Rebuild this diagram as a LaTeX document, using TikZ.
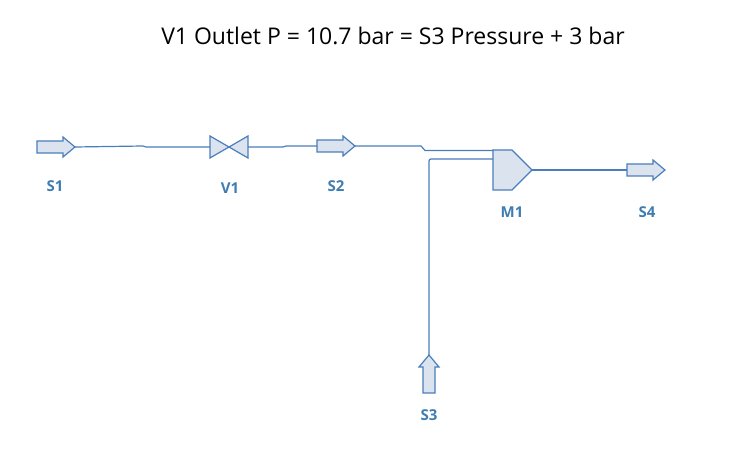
\documentclass[tikz,border=0pt]{standalone}
\usepackage{fontspec}
\setmainfont{Open Sans}
\definecolor{ln}{HTML}{4A7EBB}
\definecolor{fl}{HTML}{DAE3EE}
\definecolor{tx}{HTML}{3E7CB1}
\begin{document}
\begin{tikzpicture}[x=1pt,y=-1pt,
  pipe/.style={draw=ln,line width=1.2pt},
  strm/.style={pipe,fill=fl,line join=miter},
  lab/.style={text=tx,font=\bfseries\fontsize{15}{18}\selectfont}]
\useasboundingbox (0,0) rectangle (755,457);
\node[font=\fontsize{23}{27}\selectfont] (title) at (393,36) {V1 Outlet P = 10.7 bar = S3 Pressure + 3 bar};
% horizontal stream arrows: left end at x, centre y
\def\harrow#1#2{\draw[strm] (#1,#2-6) -- (#1+26,#2-6) -- (#1+26,#2-10) -- (#1+38,#2) -- (#1+26,#2+10) -- (#1+26,#2+6) -- (#1,#2+6) -- cycle;}
\harrow{37}{147} \coordinate (s1in) at (37,147); \coordinate (s1) at (75,147);
\harrow{317}{146} \coordinate (s2in) at (317,146); \coordinate (s2) at (355,146);
\harrow{627}{170} \coordinate (s4in) at (627,170); \coordinate (s4) at (665,170);
\draw[strm] (423,393) -- (423,367) -- (419,367) -- (429,355) -- (439,367) -- (435,367) -- (435,393) -- cycle;
\coordinate (s3) at (429,355);
% valve
\coordinate (v1) at (229,147);
\draw[pipe,fill=fl,line join=miter] (210,136) -- (248,158) -- (248,136) -- (210,158) -- cycle;
\coordinate (v1in) at (210,147);
\coordinate (v1out) at (248,147);
% mixer
\draw[pipe,fill=fl] (493,150) -- (512,150) -- (532,170) -- (512,190) -- (493,190) -- cycle;
\coordinate (m1in) at (493,150.5);
\coordinate (m1in2) at (493,159);
\coordinate (m1out) at (532,170);
\draw[pipe] (s1) -- (143,146) -- (146,147) -- (v1in);
\draw[pipe] (v1out) -- (283,147) -- (286,146) -- (s2in);
\draw[pipe] (s2) -- (421,146) -- (425,150.5) -- (m1in);
\draw[pipe,rounded corners=2pt] (s3) -- (429,159) -- (m1in2);
\draw[pipe] (m1out) -- (s4in);
\node[lab] (l1) at (55,186) {S1};
\node[lab] (l2) at (230,188) {V1};
\node[lab] (l3) at (336,186) {S2};
\node[lab] (l4) at (512,212) {M1};
\node[lab] (l5) at (647,212) {S4};
\node[lab] (l6) at (429,415) {S3};
\end{tikzpicture}
\end{document}
